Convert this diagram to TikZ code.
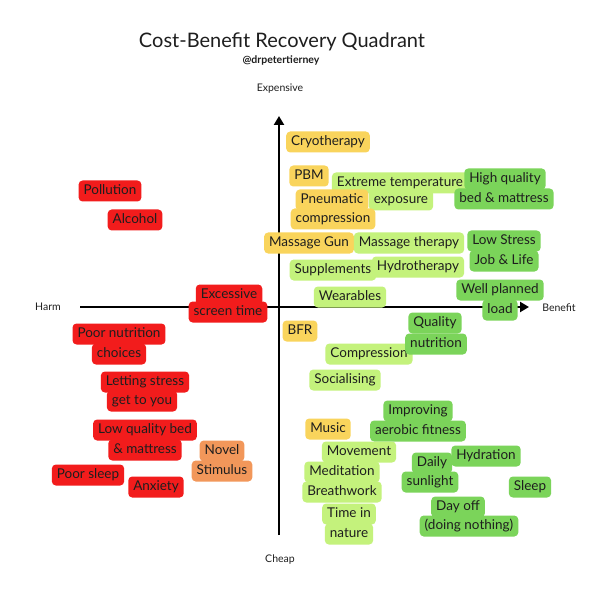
\documentclass[tikz,border=0pt]{standalone}
\usepackage{fontspec}
\setmainfont{Lato}
\usetikzlibrary{arrows.meta}
\definecolor{cred}{HTML}{F21C1C}
\definecolor{cyel}{HTML}{F9D45C}
\definecolor{clg}{HTML}{C4F27C}
\definecolor{cdg}{HTML}{7BD45A}
\definecolor{corg}{HTML}{F2975A}
\definecolor{ctxt}{HTML}{1E1E1E}
\begin{document}
\begin{tikzpicture}[x=1pt,y=-1pt,
  tag/.style={rounded corners=4pt, inner xsep=5pt, inner ysep=0pt, minimum height=21pt,
    text height=9.8pt, text depth=2.8pt, text=ctxt, font=\fontsize{13.5}{13.5}\selectfont},
  red/.style={tag, fill=cred},
  yel/.style={tag, fill=cyel},
  lg/.style={tag, fill=clg},
  dg/.style={tag, fill=cdg},
  org/.style={tag, fill=corg},
  axis/.style={line width=2.6pt, -{Triangle[length=9pt,width=10pt]}},
  small/.style={font=\fontsize{10.5}{10.5}\selectfont, text=ctxt}]
\useasboundingbox (0,0) rectangle (601,601);
\fill[white] (0,0) rectangle (601,601);

% titles
\node[font=\fontsize{20}{20}\selectfont, text=ctxt] (title) at (282,42) {Cost-Benefit Recovery Quadrant};
\node[text=ctxt, font=\fontsize{10.5}{10.5}\selectfont\bfseries] (handle) at (281,60) {@drpetertierney};
\node[small] (expensive) at (280,89) {Expensive};
\node[small] (cheap) at (280,560) {Cheap};
\node[small] (harm) at (48,307) {Harm};
\node[small] (benefit) at (559,308) {Benefit};

% axes
\coordinate (vbot) at (279,535);
\coordinate (vtop) at (279,116);
\coordinate (hleft) at (80,307);
\coordinate (hright) at (529,307);
\draw[axis] (vbot) -- (vtop);
\draw[axis] (hleft) -- (hright);

% top right quadrant
\node[yel] (cryo) at (328,142) {Cryotherapy};
\node[yel] (pbm) at (309,176) {PBM};
\node[lg] (extreme) at (400,183) {Extreme temperature};
\node[lg] (exposure) at (401,200) {exposure};
\node[yel] (pneu) at (332,200) {Pneumatic};
\node[yel] (compr1) at (333,219) {compression};
\node[dg] (hq1) at (505,179) {High quality};
\node[dg] (hq2) at (504,199) {bed \& mattress};
\node[yel] (mgun) at (309,243) {Massage Gun};
\node[lg] (mther) at (409,243) {Massage therapy};
\node[lg] (supp) at (333,270) {Supplements};
\node[lg] (hydro) at (418,267) {Hydrotherapy};
\node[dg] (ls1) at (504,241) {Low Stress};
\node[dg] (ls2) at (504,261) {Job \& Life};
\node[lg] (wear) at (350,297) {Wearables};
\node[dg] (wp1) at (500,290) {Well planned};
\node[dg] (wp2) at (500,310) {load};

% left side
\node[red] (poll) at (110,191) {Pollution};
\node[red] (alc) at (135,220) {Alcohol};
\node[red] (exc1) at (229,295) {Excessive};
\node[red] (exc2) at (228,312) {screen time};
\node[red] (pn1) at (119,334) {Poor nutrition};
\node[red] (pn2) at (119,354) {choices};
\node[red] (ls3) at (145,382) {Letting stress};
\node[red] (ls4) at (142,401) {get to you};
\node[red] (lq1) at (145,430) {Low quality bed};
\node[red] (lq2) at (145,450) {\& mattress};
\node[org] (nov1) at (222,451) {Novel};
\node[org] (nov2) at (222,471) {Stimulus};
\node[red] (psleep) at (88,475) {Poor sleep};
\node[red] (anx) at (156,487) {Anxiety};

% bottom right quadrant
\node[yel] (bfr) at (300,331) {BFR};
\node[lg] (comp) at (369,354) {Compression};
\node[dg] (qn1) at (435,323) {Quality};
\node[dg] (qn2) at (436,344) {nutrition};
\node[lg] (soc) at (345,380) {Socialising};
\node[dg] (imp1) at (418,411) {Improving};
\node[dg] (imp2) at (418,431) {aerobic fitness};
\node[yel] (music) at (328,429) {Music};
\node[lg] (move) at (359,452) {Movement};
\node[lg] (medi) at (342,472) {Meditation};
\node[lg] (breath) at (342,492) {Breathwork};
\node[lg] (time1) at (349,514) {Time in};
\node[lg] (time2) at (349,534) {nature};
\node[dg] (hydra) at (486,456) {Hydration};
\node[dg] (daily1) at (432,463) {Daily};
\node[dg] (daily2) at (430,482) {sunlight};
\node[dg] (sleep) at (530,487) {Sleep};
\node[dg] (day1) at (458,507) {Day off};
\node[dg] (day2) at (469,526) {(doing nothing)};
\end{tikzpicture}
\end{document}
